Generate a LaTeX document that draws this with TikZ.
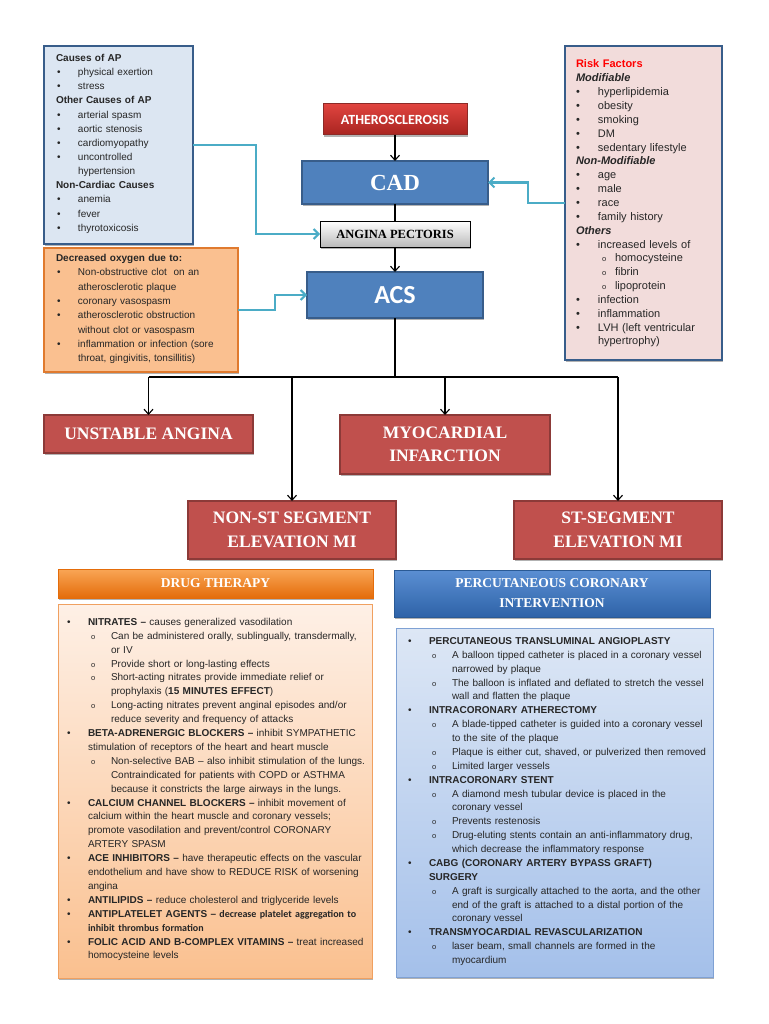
\documentclass[tikz,border=0pt]{standalone}
\usepackage{fontspec}
\setmainfont{Liberation Sans}
\newfontfamily\tnr{Liberation Serif}
\newfontfamily\calib{Carlito}
\usetikzlibrary{arrows.meta,shadows}
\definecolor{redF}{HTML}{C0504D}
\definecolor{redD}{HTML}{8C3A38}
\definecolor{bluF}{HTML}{4F81BD}
\definecolor{bluD}{HTML}{385D8A}
\definecolor{tlF}{HTML}{DCE6F2}
\definecolor{rbF}{HTML}{F2DCDB}
\definecolor{obF}{HTML}{FAC090}
\definecolor{obD}{HTML}{E07A2E}
\definecolor{tealC}{HTML}{4BACC6}
\definecolor{dhT}{HTML}{F9A656}
\definecolor{dhB}{HTML}{E46C0A}
\definecolor{dbT}{HTML}{FEF0E6}
\definecolor{dbB}{HTML}{FAC08F}
\definecolor{dbD}{HTML}{F0A060}
\definecolor{phT}{HTML}{5B8FD3}
\definecolor{phB}{HTML}{2E63A8}
\definecolor{phD}{HTML}{2A5A95}
\definecolor{pbT}{HTML}{DDE7F5}
\definecolor{pbB}{HTML}{A4C0EA}
\definecolor{pbD}{HTML}{7FA1D4}
\definecolor{athT}{HTML}{E0443F}
\definecolor{athB}{HTML}{A82420}
\definecolor{athD}{HTML}{8C2A27}
\definecolor{txtC}{HTML}{262626}
\definecolor{rfRed}{HTML}{FF0000}
\newdimen\myBo \newdimen\myBi \newdimen\mySo \newdimen\mySi
\newcommand\bul[1]{\hangindent=\myBi\hangafter=1\noindent\hbox to\myBi{\hskip\myBo\textbullet\hfil}#1\par}
\newcommand\sbul[1]{\hangindent=\mySi\hangafter=1\noindent\hbox to\mySi{\hskip\mySo{\fontsize{7.5}{7.5}\selectfont o}\hfil}#1\par}
\newcommand\hd[1]{\noindent#1\par}
\tikzset{
  box/.style={draw, anchor=north west, inner sep=0pt, outer sep=0pt},
  shad/.style={drop shadow={shadow xshift=1.2pt,shadow yshift=-1.6pt,opacity=0.3,fill=black}},
  redbox/.style={box, shad, fill=redF, draw=redD, line width=1.2pt, text=white, align=center,
    font=\tnr\bfseries\fontsize{17.5}{23.5}\selectfont},
  bluebox/.style={box, shad, fill=bluF, draw=bluD, line width=1.5pt, text=white},
  txt/.style={anchor=base west, inner sep=0pt, outer sep=0pt, align=left, text width=#1, text=txtC},
  arr/.style={draw=black, line width=1.1pt, -{Straight Barb[length=5pt,width=9pt,line width=1.1pt]}},
  tarr/.style={draw=tealC, line width=2.2pt, -{Straight Barb[length=5pt,width=10pt,line width=2pt]}},
}
\begin{document}
\begin{tikzpicture}[x=1pt,y=-1pt]
\useasboundingbox (0,0) rectangle (768,1024);
\fill[white] (0,0) rectangle (768,1024);

% ---- left info boxes
\node[box, shad, fill=tlF, draw=bluD, line width=1.3pt, minimum width=149pt, minimum height=198pt] (tl) at (44,46) {};
\node[txt=140pt, font=\fontsize{10}{14.15}\selectfont] (tlt) at (56,61.5) {\myBo=1pt\myBi=22pt%
\hd{\textbf{Causes of AP}}
\bul{physical exertion}
\bul{stress}
\hd{\textbf{Other Causes of AP}}
\bul{arterial spasm}
\bul{aortic stenosis}
\bul{cardiomyopathy}
\bul{uncontrolled\newline hypertension}
\hd{\textbf{Non-Cardiac Causes}}
\bul{anemia}
\bul{fever}
\bul{thyrotoxicosis}};

\node[box, shad, fill=obF, draw=obD, line width=1.3pt, minimum width=194pt, minimum height=124pt] (ob) at (44,248) {};
\node[txt=185pt, font=\fontsize{10}{14.3}\selectfont] (obt) at (56,261.5) {\myBo=1pt\myBi=22pt%
\hd{\textbf{Decreased oxygen due to:}}
\bul{Non-obstructive clot\ \ on an\newline atherosclerotic plaque}
\bul{coronary vasospasm}
\bul{atherosclerotic obstruction\newline without clot or vasospasm}
\bul{inflammation or infection (sore\newline throat, gingivitis, tonsillitis)}};

% ---- risk factors
\node[box, shad, fill=rbF, draw=bluD, line width=1.3pt, minimum width=157pt, minimum height=314pt] (rb) at (565,46) {};
\node[txt=150pt, font=\fontsize{11}{13.85}\selectfont] (rbt) at (576,68) {\myBo=0pt\myBi=22pt\mySo=26pt\mySi=39pt%
\hd{\textcolor{rfRed}{\textbf{Risk Factors}}}
\hd{\textbf{\textit{Modifiable}}}
\bul{hyperlipidemia}
\bul{obesity}
\bul{smoking}
\bul{DM}
\bul{sedentary lifestyle}
\hd{\textbf{\textit{Non-Modifiable}}}
\bul{age}
\bul{male}
\bul{race}
\bul{family history}
\hd{\textbf{\textit{Others}}}
\bul{increased levels of}
\sbul{homocysteine}
\sbul{fibrin}
\sbul{lipoprotein}
\bul{infection}
\bul{inflammation}
\bul{LVH (left ventricular\newline hypertrophy)}};

% ---- central chain
\node[box, shad, top color=athT, bottom color=athB, draw=athD, line width=1pt, minimum width=144pt, minimum height=31pt,
  text=white, font=\calib\bfseries\fontsize{14}{14}\selectfont] (ath) at (323,104) {ATHEROSCLEROSIS};
\node[bluebox, minimum width=186pt, minimum height=43pt, font=\tnr\bfseries\fontsize{23}{23}\selectfont] (cad) at (302,161) {CAD};
\node[box, shad, top color=white, bottom color=black!27, draw=black, line width=0.9pt, minimum width=150pt, minimum height=26pt,
  font=\tnr\bfseries\fontsize{12.5}{12.5}\selectfont] (ang) at (320,221) {ANGINA PECTORIS};
\node[bluebox, minimum width=176pt, minimum height=46pt, font=\calib\bfseries\fontsize{26}{26}\selectfont] (acs) at (307,272) {ACS};

% ---- red outcome boxes
\node[redbox, minimum width=209pt, minimum height=38pt] (ua) at (44,415) {UNSTABLE ANGINA};
\node[redbox, minimum width=210pt, minimum height=59pt] (mi) at (340,415) {MYOCARDIAL\\INFARCTION};
\node[redbox, minimum width=208pt, minimum height=58pt] (ns) at (188,501) {NON-ST SEGMENT\\ELEVATION MI};
\node[redbox, minimum width=208pt, minimum height=58pt] (st) at (514,501) {ST-SEGMENT\\ELEVATION MI};

% ---- black connectors
\draw[arr] (ath.south) -- (cad.north);
\draw[line width=1.1pt] (cad.south) -- (ang.north);
\draw[arr] (ang.south) -- (acs.north);
\coordinate (j) at (395,377);
\draw[line width=1.1pt] (acs.south) -- (j);
\draw[line width=1.1pt] (ua.north |- j) -- (st.north |- j);
\draw[arr] (ua.north |- j) -- (ua.north);
\draw[arr] (ns.north |- j) -- (ns.north);
\draw[arr] (mi.north |- j) -- (mi.north);
\draw[arr] (st.north |- j) -- (st.north);

% ---- teal connectors
\coordinate (c1) at (256,234);
\coordinate (c2) at (275,295);
\coordinate (c3) at (528,182.5);
\draw[tarr] (tl.east) -| (c1) -- (ang.west);
\draw[tarr] (ob.east) -| (c2) -- (acs.west);
\draw[tarr] (rb.west) -| (c3) -- (cad.east);

% ---- drug therapy
\node[box, shad, top color=dhT, bottom color=dhB, draw=dhB, line width=0.8pt, minimum width=315pt, minimum height=29pt,
  text=white, font=\tnr\bfseries\fontsize{13.5}{13.5}\selectfont] (dh) at (58,569) {DRUG THERAPY};
\node[box, shad, top color=dbT, bottom color=dbB, draw=dbD, line width=1pt, minimum width=314pt, minimum height=374pt] (db) at (58,604) {};
\node[txt=300pt, font=\fontsize{10}{13.9}\selectfont] (dbt) at (67,625.3) {\myBo=0pt\myBi=21pt\mySo=24pt\mySi=44pt%
\bul{\textbf{NITRATES --} causes generalized vasodilation}
\sbul{Can be administered orally, sublingually, transdermally,\newline or IV}
\sbul{Provide short or long-lasting effects}
\sbul{Short-acting nitrates provide immediate relief or\newline prophylaxis (\textbf{15 MINUTES EFFECT})}
\sbul{Long-acting nitrates prevent anginal episodes and/or\newline reduce severity and frequency of attacks}
\bul{\textbf{BETA-ADRENERGIC BLOCKERS --} inhibit SYMPATHETIC\newline stimulation of receptors of the heart and heart muscle}
\sbul{Non-selective BAB -- also inhibit stimulation of the lungs.\newline Contraindicated for patients with COPD or ASTHMA\newline because it constricts the large airways in the lungs.}
\bul{\textbf{CALCIUM CHANNEL BLOCKERS --} inhibit movement of\newline calcium within the heart muscle and coronary vessels;\newline promote vasodilation and prevent/control CORONARY\newline ARTERY SPASM}
\bul{\textbf{ACE INHIBITORS --} have therapeutic effects on the vascular\newline endothelium and have show to REDUCE RISK of worsening\newline angina}
\bul{\textbf{ANTILIPIDS --} reduce cholesterol and triglyceride levels}
\bul{\textbf{ANTIPLATELET AGENTS --} {\calib\bfseries\fontsize{10}{13.9}\selectfont decrease platelet aggregation to\newline inhibit thrombus formation}}
\bul{\textbf{FOLIC ACID AND B-COMPLEX VITAMINS --} treat increased\newline homocysteine levels}};

% ---- PCI
\node[box, shad, top color=phT, bottom color=phB, draw=phD, line width=0.8pt, minimum width=316pt, minimum height=47pt,
  text=white, align=center, font=\tnr\bfseries\fontsize{13.5}{20}\selectfont] (ph) at (394,570) {PERCUTANEOUS CORONARY\\INTERVENTION};
\node[box, shad, top color=pbT, bottom color=pbB, draw=pbD, line width=1pt, minimum width=317pt, minimum height=349pt] (pb) at (396,628) {};
\node[txt=300pt, font=\fontsize{10}{13.87}\selectfont] (pbt) at (408,644.5) {\myBo=0pt\myBi=21pt\mySo=24pt\mySi=44pt%
\bul{\textbf{PERCUTANEOUS TRANSLUMINAL ANGIOPLASTY}}
\sbul{A balloon tipped catheter is placed in a coronary vessel\newline narrowed by plaque}
\sbul{The balloon is inflated and deflated to stretch the vessel\newline wall and flatten the plaque}
\bul{\textbf{INTRACORONARY ATHERECTOMY}}
\sbul{A blade-tipped catheter is guided into a coronary vessel\newline to the site of the plaque}
\sbul{Plaque is either cut, shaved, or pulverized then removed}
\sbul{Limited larger vessels}
\bul{\textbf{INTRACORONARY STENT}}
\sbul{A diamond mesh tubular device is placed in the\newline coronary vessel}
\sbul{Prevents restenosis}
\sbul{Drug-eluting stents contain an anti-inflammatory drug,\newline which decrease the inflammatory response}
\bul{\textbf{CABG (CORONARY ARTERY BYPASS GRAFT)\newline SURGERY}}
\sbul{A graft is surgically attached to the aorta, and the other\newline end of the graft is attached to a distal portion of the\newline coronary vessel}
\bul{\textbf{TRANSMYOCARDIAL REVASCULARIZATION}}
\sbul{laser beam, small channels are formed in the\newline myocardium}};
\end{tikzpicture}
\end{document}
